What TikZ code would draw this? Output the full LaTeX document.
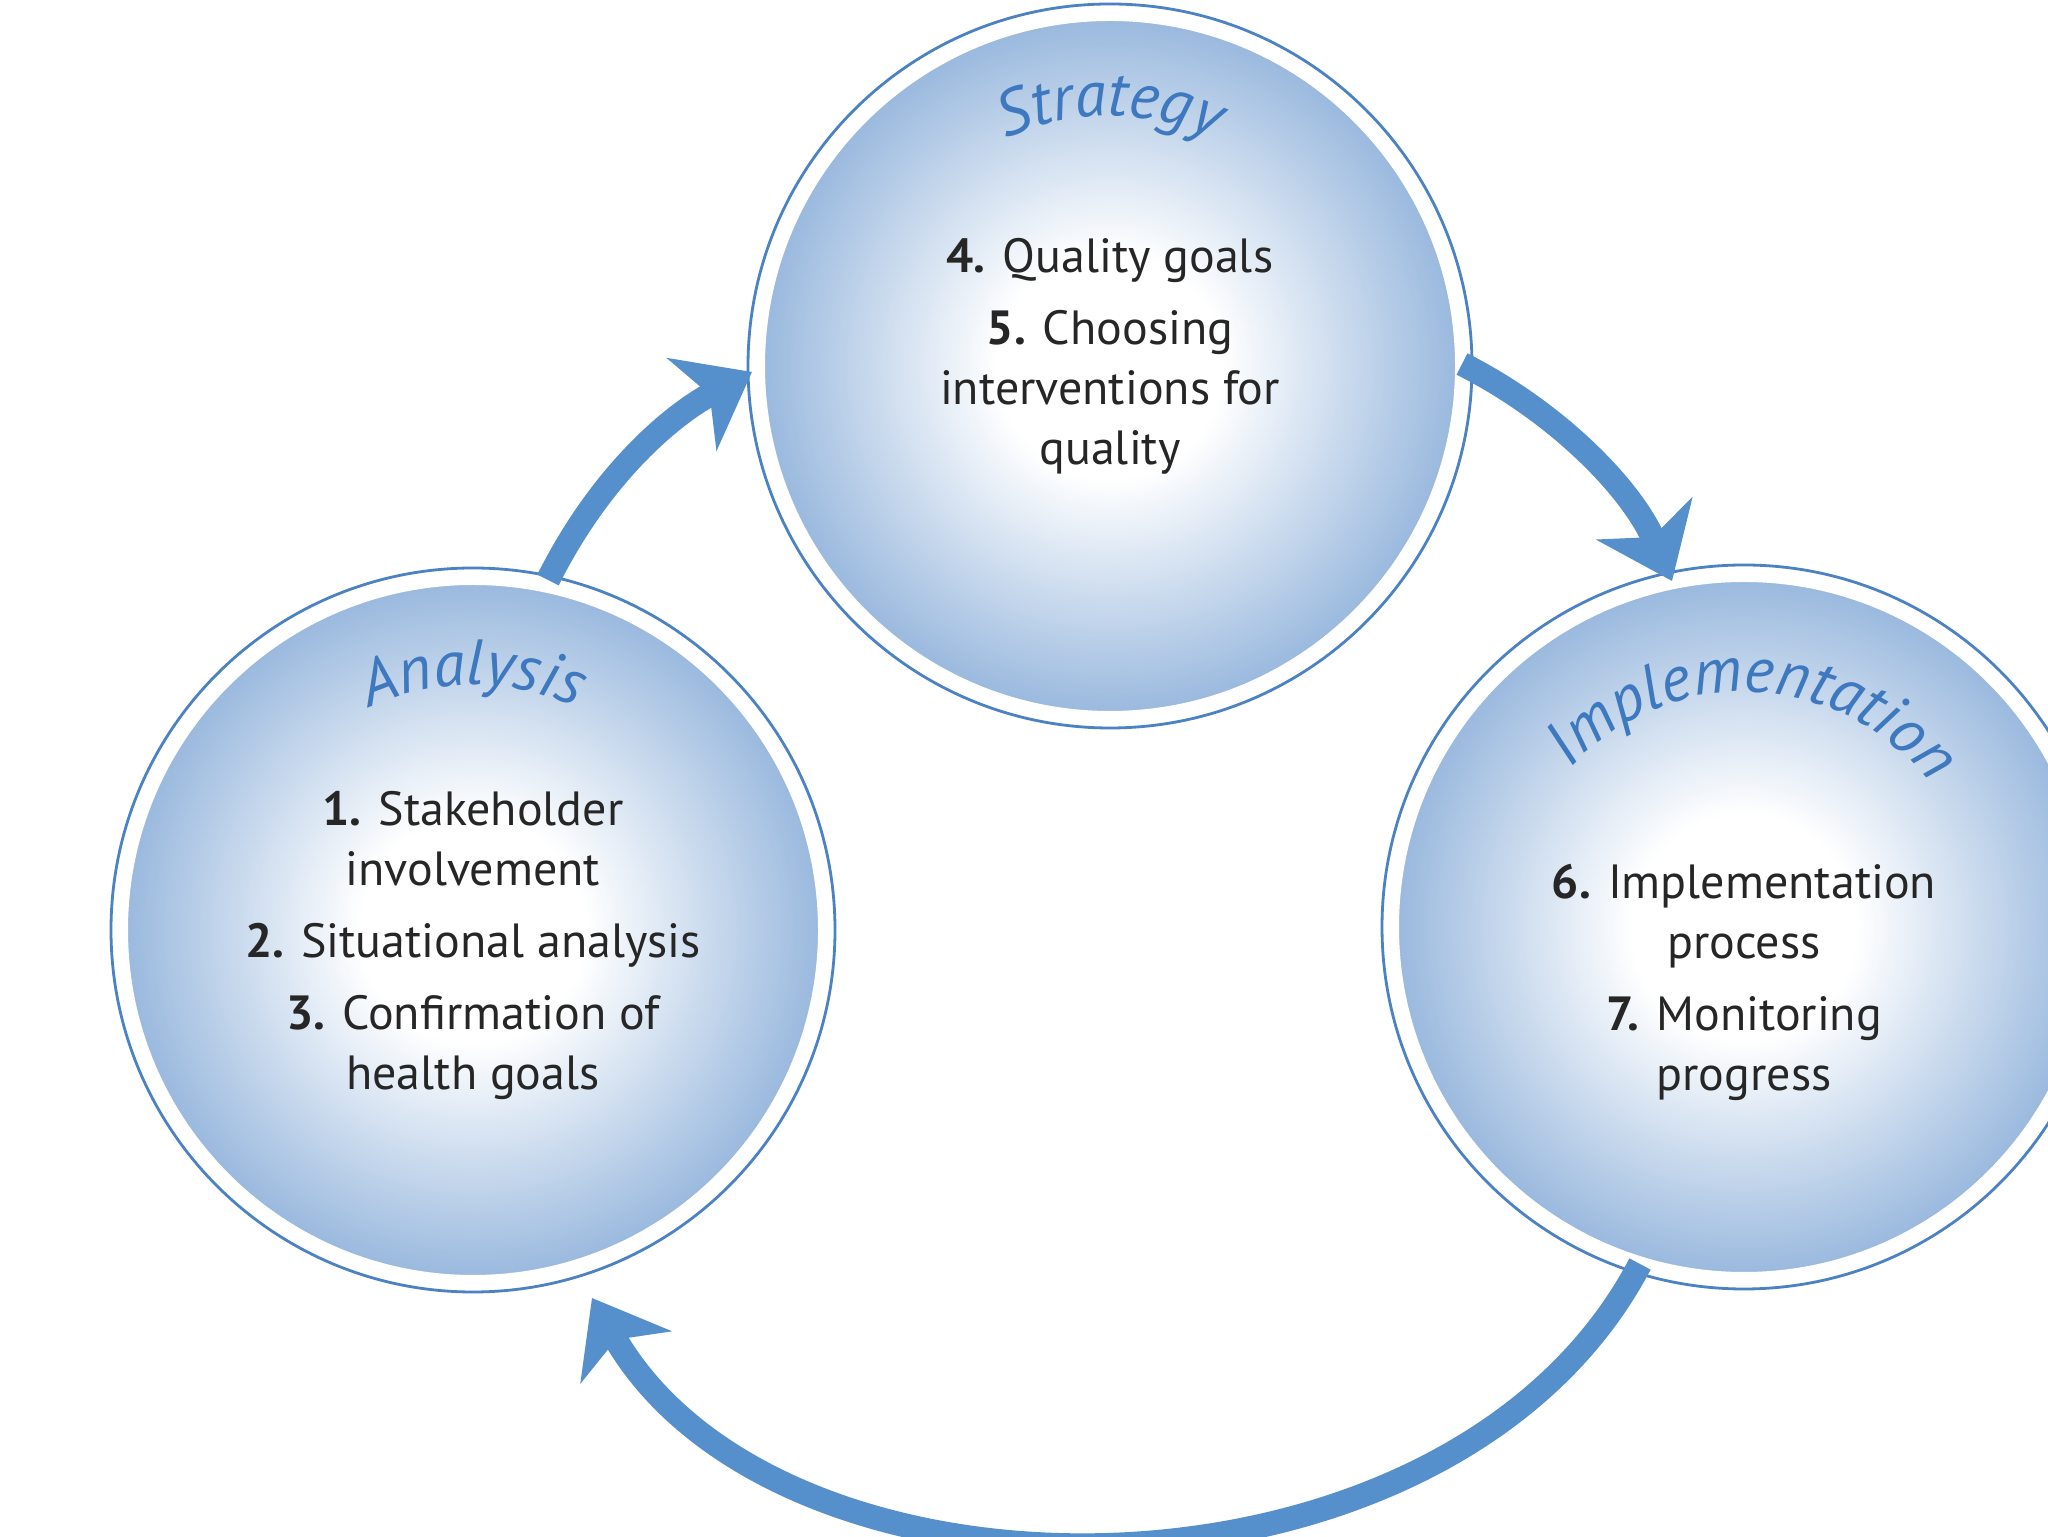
\documentclass[tikz,border=0pt]{standalone}
\usepackage{fontspec}
\setmainfont{PT Sans}
\usetikzlibrary{decorations.text,arrows.meta}
\definecolor{mblue}{RGB}{74,130,196}
\definecolor{tblue}{RGB}{62,120,190}
\definecolor{ablue}{RGB}{86,144,204}
\pgfdeclareradialshading{ballsh}{\pgfpoint{0bp}{0bp}}{color(0bp)=(white); color(8bp)=(white); color(26bp)=(mblue!60); color(50bp)=(mblue)}
\tikzset{
  ball/.style={circle, minimum size=350pt, shading=ballsh, draw=white, line width=5pt, inner sep=0pt},
  ring/.style={draw=mblue, line width=1.4pt},
  body/.style={align=center, font=\fontsize{24}{30}\selectfont, text=black!85},
  flow/.style={draw=ablue, line width=12pt, -{Stealth[length=34pt,width=52pt,inset=10pt]}},
  ttl/.style={decorate, decoration={text along path, text align=center, text={|\fontsize{32}{32}\itshape\color{tblue}|#1}}}
}
\begin{document}
\begin{tikzpicture}[x=0.5pt,y=0.5pt]
\useasboundingbox (0,0) rectangle (2048,1536);
\fill[white] (0,0) rectangle (2048,1536);
% circles
\node[ball] (S) at (1110,1170) {};
\node[ball] (A) at (473,606) {};
\node[ball] (I) at (1744,609) {};
\foreach \c in {S,A,I} \draw[ring] (\c) circle (362);
% titles
\path[ttl=Strategy] (S) ++(120:250) arc[start angle=120,end angle=60,radius=250];
\path[ttl=Analysis] (A) ++(123:245) arc[start angle=123,end angle=57,radius=245];
\path[ttl=Implementation] (I) ++(155:235) arc[start angle=155,end angle=20,radius=235];
% body texts
\node[body] (St) at (1110,1180) {\textbf{4.} Quality goals\\[6pt]\textbf{5.} Choosing\\interventions for\\quality};
\node[body] (At) at (473,590) {\textbf{1.} Stakeholder\\involvement\\[6pt]\textbf{2.} Situational analysis\\[6pt]\textbf{3.} Confirmation of\\health goals};
\node[body] (It) at (1744,554) {\textbf{6.} Implementation\\process\\[6pt]\textbf{7.} Monitoring\\progress};
% arrows
\coordinate (a1) at (548,956);
\coordinate (a2) at (752,1164);
\coordinate (b1) at (1462,1172);
\coordinate (b2) at (1672,955);
\coordinate (c1) at (1640,272);
\coordinate (c2) at (592,238);
\draw[flow] (a1) .. controls (600,1060) and (670,1120) .. (a2);
\draw[flow] (b1) .. controls (1555,1125) and (1630,1050) .. (b2);
\draw[flow] (c1) .. controls (1450,-90) and (780,-90) .. (c2);
\end{tikzpicture}
\end{document}
